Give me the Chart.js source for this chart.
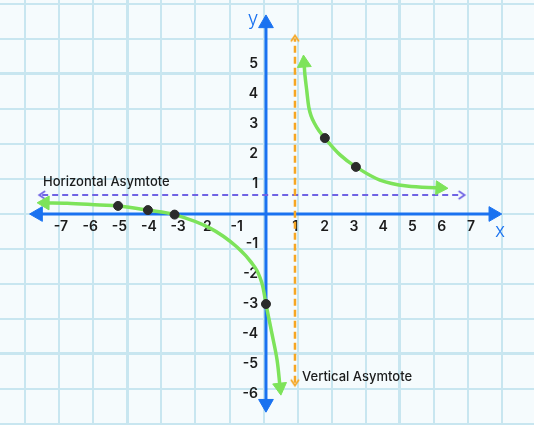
<!DOCTYPE html>
<html>
<head>
<meta charset="utf-8">
<script src="https://cdn.jsdelivr.net/npm/chart.js@4.4.0/dist/chart.umd.min.js"></script>
<style>
  html, body { margin: 0; padding: 0; background: #f5fbfd; }
  #graph { display: block; background: #f5fbfd; }
</style>
</head>
<body>
<canvas id="graph" width="534" height="425"></canvas>
<script>
// tick labels (the -2 spot really reads "2" in the source picture)
const xTickValues = [-7, -6, -5, -4, -3, -2, -1, 1, 2, 3, 4, 5, 6, 7]
const xTickLabels = ['-7', '-6', '-5', '-4', '-3', '2', '-1', '1', '2', '3', '4', '5', '6', '7']
const yTickValues = [5, 4, 3, 2, 1, -1, -2, -3, -4, -5, -6]
const yTickLabels = ['5', '4', '3', '2', '1', '-1', '-2', '-3', '-4', '-5', '-6']

// green curve
const rightBranchX = [1.30, 1.33, 1.39, 1.46, 1.54, 1.65, 1.81, 2.01, 2.53, 3.07, 3.89, 4.81, 5.94]
const rightBranchY = [5.03, 4.63, 4.13, 3.57, 3.27, 3.03, 2.77, 2.53, 1.97, 1.57, 1.13, 0.93, 0.87]
const leftBranchX = [-7.54, -6.79, -5.67, -5.05, -4.03, -3.12, -1.91, -0.99, -0.38, -0.14, 0, 0.20, 0.38, 0.48]
const leftBranchY = [0.37, 0.36, 0.30, 0.27, 0.13, -0.02, -0.47, -1.10, -1.77, -2.30, -3.00, -3.97, -4.87, -5.77]

// the black dots
const dotX = [-5.05, -4.03, -3.12, 0, 2.01, 3.07]
const dotY = [0.27, 0.13, -0.02, -3.00, 2.53, 1.57]

// asymptotes
const hAsymX = [-7.64, 6.68]
const hAsymY = [0.63, 0.63]
const vAsymX = [0.99, 0.99]
const vAsymY = [-5.62, 5.85]

// axis arrows
const xAxisX = [-7.78, 7.76]
const xAxisY = [0, 0]
const yAxisX = [0, 0]
const yAxisY = [-6.32, 6.35]

// text notes
const noteTexts = ['Horizontal Asymtote', 'Vertical Asymtote', 'x', 'y']
const noteX = [-7.61, 1.23, 7.99, -0.44]
const noteY = [1.07, -5.43, -0.57, 6.5]

const BLUE = '#1a72f0'
const GREEN = '#7de35a'
const PURPLE = '#6f63e4'
const ORANGE = '#f6a623'
const GRID = '#c8e6f0'
const INK = '#1c1c1c'
const FONT = 'Inter, "Noto Sans", sans-serif'

const noteStyles = [
    { font: '500 13px ' + FONT, color: INK },
    { font: '500 13px ' + FONT, color: INK },
    { font: '300 19px ' + FONT, color: BLUE },
    { font: '300 19px ' + FONT, color: BLUE }
]

const toPoints = (xs, ys) => xs.map((v, i) => ({ x: v, y: ys[i] }))

function isEnd(ctx) {
    return ctx.dataIndex === 0 || ctx.dataIndex === ctx.dataset.data.length - 1
}

// turn an end point so it follows its line
function arrowAngle(ctx) {
    const d = ctx.dataset.data
    const i = ctx.dataIndex
    if (!isEnd(ctx)) return 0
    const sx = ctx.chart.scales.x
    const sy = ctx.chart.scales.y
    const a = i === 0 ? d[1] : d[d.length - 2]
    const b = d[i]
    const dx = sx.getPixelForValue(b.x) - sx.getPixelForValue(a.x)
    const dy = sy.getPixelForValue(b.y) - sy.getPixelForValue(a.y)
    return Math.atan2(dx, -dy) * 180 / Math.PI
}

function chevron(color) {
    const c = document.createElement('canvas')
    c.width = 12
    c.height = 12
    const g = c.getContext('2d')
    g.strokeStyle = color
    g.lineWidth = 1.8
    g.beginPath()
    g.moveTo(2, 9)
    g.lineTo(6, 3)
    g.lineTo(10, 9)
    g.stroke()
    return c
}

function arrowLine(data, color, width, order) {
    return {
        data: data,
        xAxisID: 'x',
        yAxisID: 'y',
        showLine: true,
        borderColor: color,
        borderWidth: width,
        backgroundColor: color,
        pointStyle: 'triangle',
        pointRadius: ctx => isEnd(ctx) ? 8.5 : 0,
        pointRotation: arrowAngle,
        pointBackgroundColor: color,
        pointBorderColor: color,
        pointBorderWidth: 1,
        order: order
    }
}

function dashedLine(data, color, width, dash, order) {
    return {
        data: data,
        xAxisID: 'x',
        yAxisID: 'y',
        showLine: true,
        borderColor: color,
        borderWidth: width,
        borderDash: dash,
        pointStyle: chevron(color),
        pointRadius: ctx => isEnd(ctx) ? 6 : 0,
        pointRotation: arrowAngle,
        order: order
    }
}

const notesPlugin = {
    id: 'notes',
    afterDatasetsDraw(chart) {
        const { ctx, scales } = chart
        ctx.save()
        ctx.textAlign = 'left'
        ctx.textBaseline = 'middle'
        noteTexts.forEach((t, i) => {
            ctx.font = noteStyles[i].font
            ctx.fillStyle = noteStyles[i].color
            const w = i >= 2 ? ctx.measureText(t).width / 2 : 0
            ctx.fillText(t, scales.x.getPixelForValue(noteX[i]) - w, scales.y.getPixelForValue(noteY[i]))
        })
        ctx.restore()
    }
}

// keep the centred axes from eating into the plot
function noSpace(s) {
    if (s.isHorizontal()) s.height = 0
    else s.width = 0
    s.paddingTop = 0
    s.paddingBottom = 0
    s.paddingLeft = 0
    s.paddingRight = 0
}

const gridCols = Array.from({ length: 15 }, (_, i) => i)
const gridRows = Array.from({ length: 13 }, (_, i) => i)

const leftCurve = arrowLine(toPoints(leftBranchX, leftBranchY), GREEN, 3.5, 2)
leftCurve.tension = 0.35
leftCurve.pointRadius = ctx => isEnd(ctx) ? 8 : 0
const rightCurve = arrowLine(toPoints(rightBranchX, rightBranchY), GREEN, 3.5, 2)
rightCurve.tension = 0.35
rightCurve.pointRadius = ctx => isEnd(ctx) ? 8 : 0

const graph = new Chart(document.getElementById('graph'), {
    type: 'scatter',
    data: {
        datasets: [
            arrowLine(toPoints(xAxisX, xAxisY), BLUE, 3, 6),
            arrowLine(toPoints(yAxisX, yAxisY), BLUE, 3, 6),
            dashedLine(toPoints(hAsymX, hAsymY), PURPLE, 2, [6, 4], 4),
            dashedLine(toPoints(vAsymX, vAsymY), ORANGE, 2.5, [7, 4], 3),
            leftCurve,
            rightCurve,
            {
                data: toPoints(dotX, dotY),
                xAxisID: 'x',
                yAxisID: 'y',
                pointRadius: 4.5,
                pointBackgroundColor: '#2b2b2b',
                pointBorderColor: '#2b2b2b',
                order: 1
            }
        ]
    },
    options: {
        responsive: false,
        devicePixelRatio: 1,
        animation: false,
        layout: { padding: 0, autoPadding: false },
        plugins: { legend: { display: false }, tooltip: { enabled: false } },
        scales: {
            x: {
                type: 'linear', position: { y: 0 }, min: -9.08, max: 9.15,
                afterBuildTicks: s => { s.ticks = xTickValues.map(v => ({ value: v })) },
                afterFit: noSpace,
                grid: { display: false, drawTicks: false },
                border: { display: false },
                ticks: {
                    autoSkip: false, maxRotation: 0, padding: 4, color: INK,
                    font: { family: FONT, size: 14, weight: '600' },
                    callback: (v, i) => xTickLabels[i]
                }
            },
            y: {
                type: 'linear', position: { x: -0.27 }, min: -7.03, max: 7.13,
                afterBuildTicks: s => { s.ticks = yTickValues.map(v => ({ value: v })) },
                afterFit: noSpace,
                grid: { display: false, drawTicks: false },
                border: { display: false },
                ticks: {
                    autoSkip: false, padding: 0, color: INK,
                    font: { family: FONT, size: 14, weight: '600' },
                    callback: (v, i) => yTickLabels[i]
                }
            },
            gx: {
                type: 'linear', position: 'bottom', min: -0.74, max: 14.94,
                afterBuildTicks: s => { s.ticks = gridCols.map(v => ({ value: v })) },
                ticks: { display: false },
                border: { display: false },
                grid: { drawTicks: false, color: GRID, lineWidth: ctx => ctx.tick && ctx.tick.value % 8 === 3 ? 3 : 2 }
            },
            gy: {
                type: 'linear', position: 'left', reverse: true, min: -0.114, max: 12.03,
                afterBuildTicks: s => { s.ticks = gridRows.map(v => ({ value: v })) },
                ticks: { display: false },
                border: { display: false },
                grid: { drawTicks: false, color: GRID, lineWidth: ctx => ctx.tick && ctx.tick.value % 8 === 2 ? 3 : 2 }
            }
        }
    },
    plugins: [notesPlugin]
})
</script>
</body>
</html>
